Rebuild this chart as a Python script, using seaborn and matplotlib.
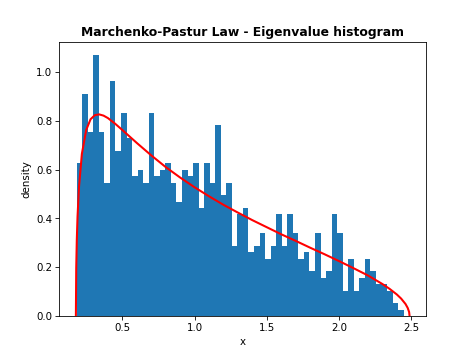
# Marchenko-Pastur eigenvalue histogram (ratio 1/3, 1000 eigenvalues)

import numpy as np
import pandas as pd
import matplotlib
matplotlib.use("Agg")
import matplotlib.pyplot as plt
import seaborn as sns

# histogram: 59 equal bins between these two limits, eigenvalue count in each bin
hist_lo = 0.184
hist_hi = 2.447
counts = [24, 35, 29, 41, 29, 21, 37, 26, 32, 28,
          22, 23, 21, 32, 22, 23, 24, 21, 18, 23,
          22, 24, 17, 24, 21, 30, 19, 21, 11, 16,
          17, 10, 11, 13, 9, 11, 16, 11, 16, 13,
          9, 10, 7, 13, 6, 7, 16, 13, 4, 9,
          4, 6, 9, 7, 5, 5, 4, 2, 1]

# red curve
curve_x = [0.1786, 0.181, 0.185, 0.19, 0.20, 0.22, 0.25, 0.28, 0.31, 0.34,
           0.37, 0.40, 0.45, 0.50, 0.60, 0.70, 0.80, 0.90, 1.00, 1.10,
           1.20, 1.30, 1.40, 1.50, 1.60, 1.70, 1.80, 1.90, 2.00, 2.10,
           2.20, 2.30, 2.35, 2.40, 2.43, 2.46, 2.475, 2.485, 2.488]
curve_y = [0.0, 0.196, 0.313, 0.407, 0.528, 0.665, 0.763, 0.807, 0.824, 0.827,
           0.822, 0.812, 0.789, 0.763, 0.710, 0.659, 0.611, 0.568, 0.528, 0.491,
           0.456, 0.424, 0.393, 0.364, 0.335, 0.308, 0.280, 0.253, 0.225, 0.196,
           0.166, 0.131, 0.111, 0.088, 0.071, 0.049, 0.033, 0.016, 0.0]

nbins = len(counts)
edges = np.linspace(hist_lo, hist_hi, nbins + 1)
hist_df = pd.DataFrame({"x": (edges[:-1] + edges[1:]) / 2, "n": counts})

fig, ax = plt.subplots(figsize=(6.4, 4.8), dpi=74)
sns.histplot(data=hist_df, x="x", weights="n", bins=nbins,
             binrange=(hist_lo, hist_hi), stat="density",
             element="step", fill=True, color="#1f77b4", alpha=1,
             linewidth=0, ax=ax)
sns.lineplot(x=curve_x, y=curve_y, color="red", linewidth=2, sort=False, ax=ax)

ax.set_title("Marchenko-Pastur Law - Eigenvalue histogram", fontweight="bold")
ax.set_xlabel("x")
ax.set_ylabel("density")

fig.savefig("out.png", dpi=74)
